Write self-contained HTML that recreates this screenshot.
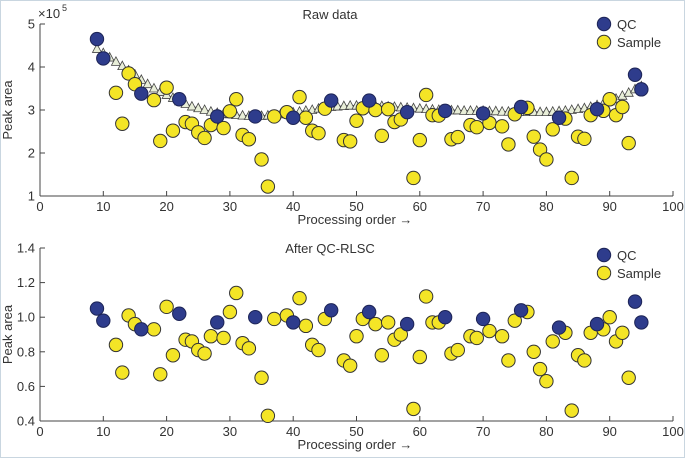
<!DOCTYPE html>
<html><head><meta charset="utf-8"><style>
body{margin:0;background:#fff}
svg{display:block;font-family:"Liberation Sans",sans-serif}
</style></head><body>
<svg id="c" width="685" height="458">
<rect x="0.5" y="0.5" width="684" height="457" fill="#fff" stroke="#c9d6e0"/>
</svg>
<script>
const qcX=[9,10,16,22,28,34,40,46,52,58,64,70,76,82,88,94,95];
const qcRaw=[4.65,4.2,3.38,3.25,2.85,2.85,2.82,3.22,3.22,2.95,2.98,2.92,3.07,2.82,3.02,3.82,3.48];
const qcCorr=[1.05,0.98,0.93,1.02,0.97,1.0,0.97,1.04,1.03,0.96,1.0,0.99,1.04,0.94,0.96,1.09,0.97];
const sX=[12,13,14,15,18,19,20,21,23,24,25,26,27,29,30,31,32,33,35,36,37,39,41,42,43,44,45,48,49,50,51,53,54,55,56,57,59,60,61,62,63,65,66,68,69,71,73,74,75,77,78,79,80,81,83,84,85,86,87,89,90,91,92,93];
const sRaw=[3.4,2.68,3.85,3.6,3.23,2.28,3.52,2.52,2.72,2.68,2.48,2.35,2.65,2.58,2.97,3.25,2.42,2.32,1.85,1.22,2.85,2.95,3.3,2.82,2.52,2.46,3.03,2.3,2.27,2.75,3.04,3.0,2.4,3.02,2.72,2.78,1.42,2.3,3.35,2.88,2.87,2.32,2.37,2.65,2.6,2.7,2.62,2.2,2.9,3.05,2.38,2.08,1.85,2.55,2.8,1.42,2.38,2.33,2.88,2.98,3.25,2.88,3.07,2.23];
const sCorr=[0.84,0.68,1.01,0.96,0.93,0.67,1.06,0.78,0.87,0.86,0.81,0.79,0.89,0.88,1.03,1.14,0.85,0.82,0.65,0.43,0.99,1.01,1.11,0.95,0.84,0.81,0.99,0.75,0.72,0.89,0.99,0.96,0.78,0.97,0.87,0.9,0.47,0.77,1.12,0.97,0.97,0.79,0.81,0.89,0.88,0.92,0.89,0.75,0.98,1.03,0.8,0.7,0.63,0.86,0.91,0.46,0.78,0.75,0.91,0.93,1.0,0.86,0.91,0.65];
const fitX=[9,10,11,12,13,14,15,16,17,18,19,20,21,22,23,24,25,26,27,28,29,30,31,32,33,34,35,36,37,38,39,40,41,42,43,44,45,46,47,48,49,50,51,52,53,54,55,56,57,58,59,60,61,62,63,64,65,66,67,68,69,70,71,72,73,74,75,76,77,78,79,80,81,82,83,84,85,86,87,88,89,90,91,92,93,94,95];
const fitY=[4.42,4.32,4.22,4.12,4.02,3.92,3.82,3.7,3.6,3.5,3.42,3.35,3.28,3.2,3.14,3.08,3.04,3.0,2.96,2.93,2.91,2.9,2.88,2.87,2.86,2.86,2.86,2.87,2.88,2.9,2.92,2.94,2.96,2.98,3.0,3.03,3.05,3.07,3.08,3.09,3.1,3.1,3.1,3.1,3.1,3.09,3.08,3.07,3.06,3.05,3.04,3.03,3.02,3.01,3.0,3.0,2.99,2.99,2.98,2.98,2.98,2.98,2.97,2.97,2.96,2.96,2.96,2.95,2.95,2.95,2.95,2.95,2.96,2.97,2.98,3.0,3.02,3.04,3.07,3.11,3.15,3.2,3.26,3.33,3.4,3.48,3.55];
const xTicks=[0,10,20,30,40,50,60,70,80,90,100];
const yTicksTop=[1,2,3,4,5];
const yTicksBot=[0.4,0.6,0.8,1.0,1.2,1.4];
const NS="http://www.w3.org/2000/svg",svg=document.getElementById('c');
function mk(t,a,txt){const e=document.createElementNS(NS,t);for(const k in a)e.setAttribute(k,a[k]);if(txt!=null)e.textContent=txt;svg.appendChild(e);return e;}
const X0=40,X1=673;
const sx=v=>X0+(v-0)/100*(X1-X0);
function panel(name,yTop,yBot,ymin,ymax,yTicks,fmt,title,titleY,legY,qcY,sY,fit){
 const sy=v=>yBot-(v-ymin)/(ymax-ymin)*(yBot-yTop);
 let e=mk('line',{x1:X0,y1:yBot,x2:X1,y2:yBot,stroke:'#444'});
 
 e=mk('line',{x1:X0,y1:yTop,x2:X0,y2:yBot,stroke:'#444'});
 
 xTicks.forEach(t=>{mk('line',{x1:sx(t),y1:yBot,x2:sx(t),y2:yBot-5,stroke:'#444'});
  e=mk('text',{x:sx(t),y:yBot+15,'text-anchor':'middle','font-size':13,fill:'#333'},t);
  });
 yTicks.forEach(t=>{mk('line',{x1:X0,y1:sy(t),x2:X0+5,y2:sy(t),stroke:'#444'});
  e=mk('text',{x:X0-5,y:sy(t)+4.5,'text-anchor':'end','font-size':13,fill:'#333'},fmt(t));
  });
 e=mk('text',{x:355,y:yBot+28,'text-anchor':'middle','font-size':13,fill:'#333'},'Processing order →');
 
 const cy=(yTop+yBot)/2;
 e=mk('text',{x:12,y:cy,'text-anchor':'middle','font-size':13,fill:'#333',transform:`rotate(-90 12 ${cy})`},'Peak area');
 
 e=mk('text',{x:330,y:titleY,'text-anchor':'middle','font-size':13,fill:'#333'},title);
 
 if(fit){
  e=mk('polyline',{points:fitX.map((x,i)=>sx(x)+','+sy(fitY[i])).join(' '),fill:'none',stroke:'#555','stroke-width':1.5});
  
  fitX.forEach((x,i)=>{const px=sx(x),py=sy(fitY[i]);
   e=mk('polygon',{points:`${px},${py-5} ${px-4.5},${py+3.5} ${px+4.5},${py+3.5}`,fill:'#e8eed8',stroke:'#444','stroke-width':0.8});
   });
 }
 sX.forEach((x,i)=>{e=mk('circle',{cx:sx(x),cy:sy(sY[i]),r:6.7,fill:'#f4e526',stroke:'#333','stroke-width':1});
  });
 qcX.forEach((x,i)=>{e=mk('circle',{cx:sx(x),cy:sy(qcY[i]),r:6.7,fill:'#2e3c8c',stroke:'#1d2456','stroke-width':1});
  });
 e=mk('circle',{cx:604,cy:legY,r:6.7,fill:'#2e3c8c',stroke:'#1d2456'});
 
 e=mk('text',{x:617,y:legY+5,'font-size':13,fill:'#333'},'QC');
 
 e=mk('circle',{cx:604,cy:legY+18,r:6.7,fill:'#f4e526',stroke:'#333'});
 
 e=mk('text',{x:617,y:legY+23,'font-size':13,fill:'#333'},'Sample');
 
}
panel('top',24,196,1,5,yTicksTop,t=>t,'Raw data',19,24,qcRaw,sRaw,true);
panel('bottom',248,421,0.4,1.4,yTicksBot,t=>t.toFixed(1),'After QC-RLSC',253,255,qcCorr,sCorr,false);
let m=mk('text',{x:38,y:18,'font-size':13,fill:'#333'},'×10');

m=mk('text',{x:62,y:11,'font-size':9,fill:'#333'},'5');

</script>
</body></html>
